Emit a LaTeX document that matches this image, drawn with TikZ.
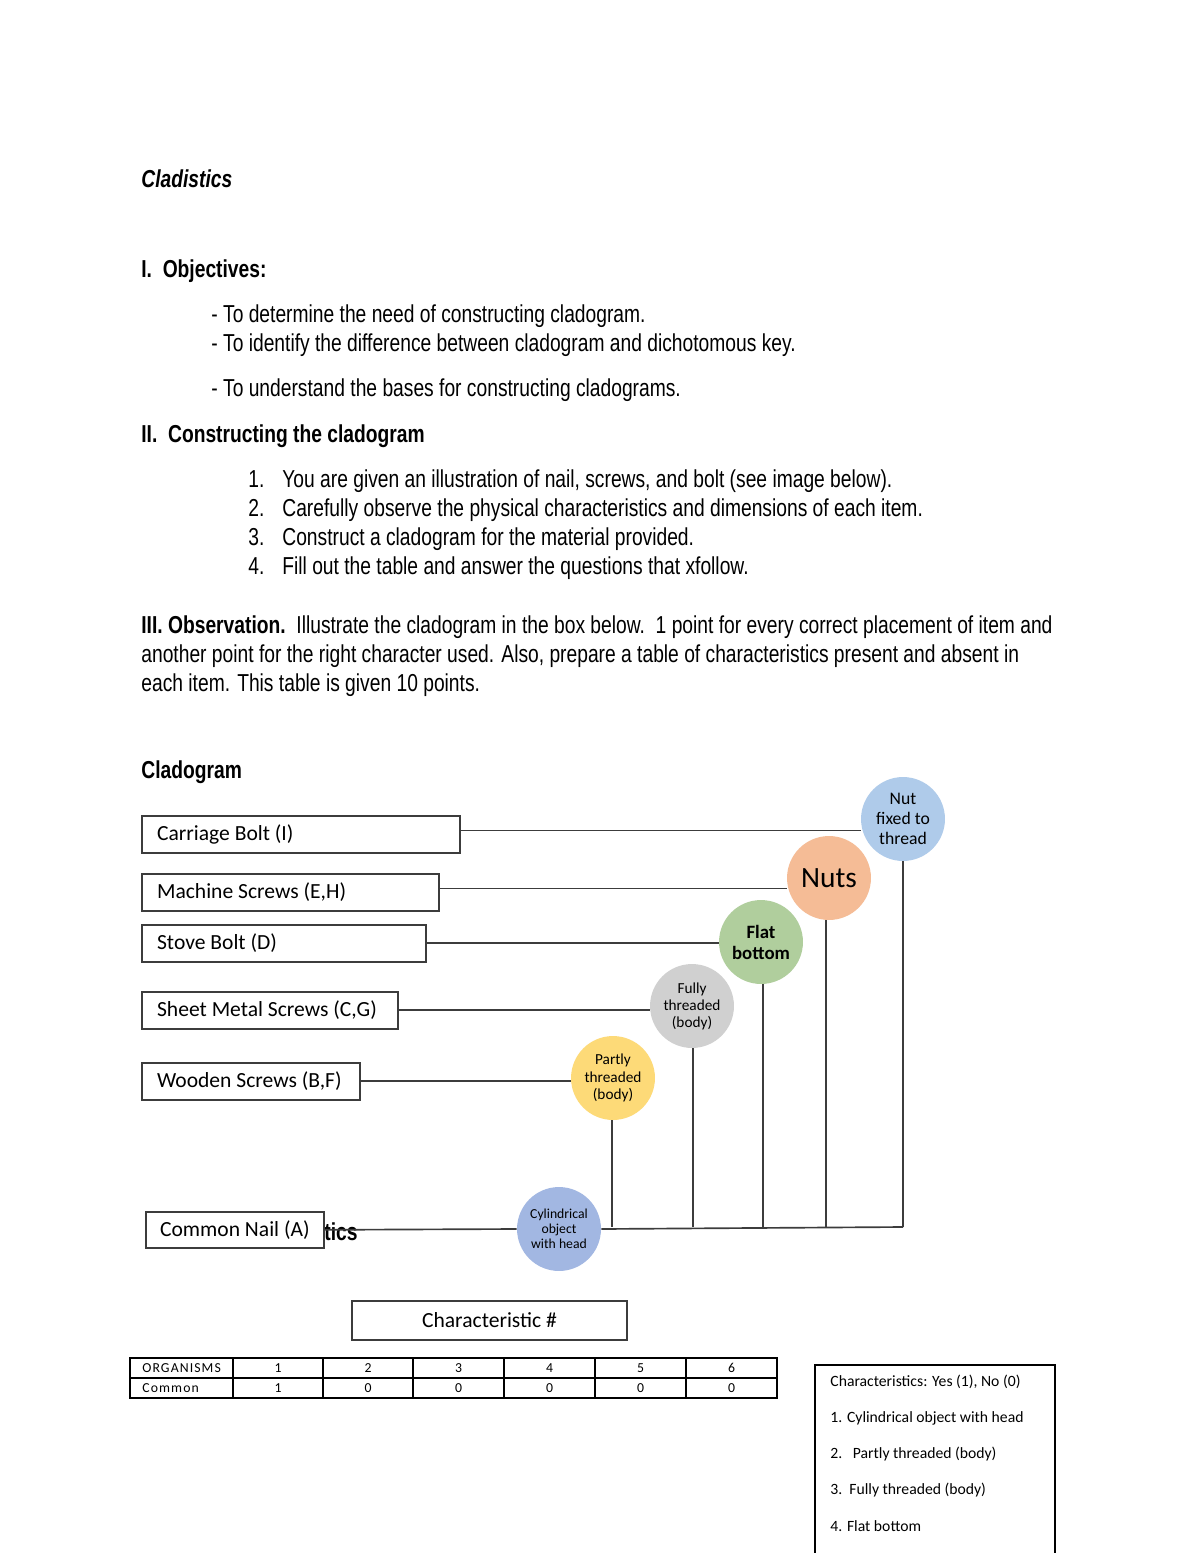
\documentclass[tikz,border=0pt]{standalone}
\usepackage{fontspec}
\setmainfont{Liberation Sans}[FakeStretch=0.785]
\newfontfamily\calib{Carlito}
\newfontfamily\calibsp{Carlito}[LetterSpace=8]
\usetikzlibrary{calc}
\definecolor{nftblue}{RGB}{175,203,234}
\definecolor{nutsor}{RGB}{245,188,150}
\definecolor{flatgr}{RGB}{176,206,157}
\definecolor{fullgr}{RGB}{208,208,208}
\definecolor{partyl}{RGB}{253,218,120}
\definecolor{cylbl}{RGB}{162,183,226}
\definecolor{lnc}{RGB}{60,60,60}
\begin{document}
\begin{tikzpicture}[x=0.51pt,y=-0.51pt,
  txt/.style={anchor=base west, inner sep=0, font=\fontsize{12.5}{15}\selectfont},
  hd/.style={anchor=base west, inner sep=0, font=\bfseries\fontsize{12.5}{15}\selectfont},
  box/.style={draw=lnc, line width=0.8pt, fill=white, inner sep=0, anchor=north west},
  lbl/.style={anchor=west, inner sep=0, font=\calib\fontsize{11}{13}\selectfont},
  blob/.style={circle, minimum size=42.8pt, inner sep=0, align=center},
  conn/.style={draw=lnc, line width=0.85pt},
  tbl/.style={draw=black, line width=1.2pt},
  tt/.style={inner sep=0, font=\calibsp\fontsize{7}{8}\selectfont},
  kt/.style={anchor=base west, inner sep=0, font=\calib\fontsize{8}{10}\selectfont},
]
\useasboundingbox (0,0) rectangle (1200,1553);
\fill[white] (0,0) rectangle (1200,1553);

% ---------- text ----------
\node[anchor=base west, inner sep=0, font=\bfseries\itshape\fontsize{12.5}{15}\selectfont] (title) at (141,188) {Cladistics};
\node[hd] (obj) at (141,277) {I.\ \ Objectives:};
\node[txt] (o1) at (211,322) {- To determine the need of constructing cladogram.};
\node[txt] (o2) at (211,351) {- To identify the difference between cladogram and dichotomous key.};
\node[txt] (o3) at (211,396) {- To understand the bases for constructing cladograms.};
\node[hd] (con) at (141,442) {II.\ \ Constructing the cladogram};
\node[txt] (n1) at (248,487) {1.};
\node[txt] (l1) at (282,487) {You are given an illustration of nail, screws, and bolt (see image below).};
\node[txt] (n2) at (248,516) {2.};
\node[txt] (l2) at (282,516) {Carefully observe the physical characteristics and dimensions of each item.};
\node[txt] (n3) at (248,545) {3.};
\node[txt] (l3) at (282,545) {Construct a cladogram for the material provided.};
\node[txt] (n4) at (248,574) {4.};
\node[txt] (l4) at (282,574) {Fill out the table and answer the questions that xfollow.};
\node[txt] (p1) at (141,633) {\textbf{III. Observation.}\ \ Illustrate the cladogram in the box below.\ \ 1 point for every correct placement of item and};
\node[txt] (p2) at (141,662) {another point for the right character used. Also, prepare a table of characteristics present and absent in};
\node[txt] (p3) at (141,691) {each item. This table is given 10 points.};
\node[hd] (clh) at (141,778) {Cladogram};

% ---------- cladogram ----------
\node[anchor=base west, inner sep=0, font=\bfseries\fontsize{12.5}{15}\selectfont] (tics) at (324,1240) {tics};

\node[box, minimum width=162.2pt, minimum height=18.9pt] (cb) at (141,815) {};
\node[lbl] at ([xshift=8pt]cb.west) {Carriage Bolt (I)};
\node[box, minimum width=151.5pt, minimum height=18.9pt] (ms) at (141,873) {};
\node[lbl] at ([xshift=8pt]ms.west) {Machine Screws (E,H)};
\node[box, minimum width=144.8pt, minimum height=18.9pt] (sb) at (141,924) {};
\node[lbl] at ([xshift=8pt]sb.west) {Stove Bolt (D)};
\node[box, minimum width=130.6pt, minimum height=18.9pt] (sm) at (141,991) {};
\node[lbl] at ([xshift=8pt]sm.west) {Sheet Metal Screws (C,G)};
\node[box, minimum width=111.2pt, minimum height=18.9pt] (ws) at (141,1062) {};
\node[lbl] at ([xshift=8pt]ws.west) {Wooden Screws (B,F)};
\node[box, minimum width=90.8pt, minimum height=18.4pt] (cn) at (145,1211) {};
\node[lbl] at ([xshift=7.5pt]cn.west) {Common Nail (A)};

\node[blob, fill=nftblue, font=\calib\fontsize{9}{10}\selectfont] (nft) at (903,819) {Nut\\fixed to\\thread};
\node[blob, fill=nutsor, font=\calib\fontsize{15}{17}\selectfont] (nuts) at (829,878) {Nuts};
\node[blob, fill=flatgr, font=\calib\bfseries\fontsize{9.6}{10.7}\selectfont] (flat) at (761,942) {Flat\\bottom};
\node[blob, fill=fullgr, font=\calib\fontsize{7.8}{8.7}\selectfont] (full) at (692,1006) {Fully\\threaded\\(body)};
\node[blob, fill=partyl, font=\calib\fontsize{7.8}{8.9}\selectfont] (part) at (613,1078) {Partly\\threaded\\(body)};
\node[blob, fill=cylbl, font=\calib\fontsize{7}{7.7}\selectfont] (cyl) at (559,1229) {Cylindrical\\object\\with head};

\coordinate (base) at (0,1227);
\draw[conn] ([yshift=2pt]cb.east) -- ([yshift=2pt]cb.east -| nft.west);
\draw[conn] ([yshift=2pt]ms.east) -- ([yshift=2pt]ms.east -| nuts.west);
\draw[conn] (sb.east) -- (sb.east -| flat.west);
\draw[conn] (sm.east) -- (sm.east -| full.west);
\draw[conn] (ws.east) -- (ws.east -| part.west);
\draw[conn] (cn.east) -- (cyl.west);
\draw[conn] (nft.south) -- (nft.south |- base);
\draw[conn] ([xshift=-1.5pt]nuts.south) -- ([xshift=-1.5pt]nuts.south |- base);
\draw[conn] ([xshift=1pt]flat.south) -- ([xshift=1pt]flat.south |- base);
\draw[conn] ([xshift=0.5pt]full.south) -- ([xshift=0.5pt]full.south |- base);
\draw[conn] ([xshift=-0.5pt]part.south) -- ([xshift=-0.5pt]part.south |- base);
\draw[conn] (cyl.east) -- (nft.south |- base);

% ---------- table ----------
\node[draw=lnc, line width=0.8pt, minimum width=140.3pt, minimum height=19.9pt, inner sep=0, font=\calib\fontsize{11}{13}\selectfont] (chn) at (489.5,1320.5) {Characteristic \#};

\draw[tbl] (130,1358) rectangle (777,1398);
\draw[tbl] (130,1378) -- (777,1378);
\foreach \x in {233,323,413,504,595,686} \draw[tbl] (\x,1358) -- (\x,1398);
\node[tt, anchor=west] (org) at (142,1368) {ORGANISMS};
\node[tt, anchor=west] (com) at (142,1388) {Common};
\foreach \x/\h/\v [count=\i] in {278/1/1,368/2/0,458.5/3/0,549.5/4/0,640.5/5/0,731.5/6/0} {
  \node[tt] (h\i) at (\x,1368) {\h};
  \node[tt] (v\i) at (\x,1388) {\v};
}

% ---------- key ----------
\draw[draw=black, line width=0.75pt] (815,1553) -- (815,1365) -- (1055,1365) -- (1055,1553);
\node[kt] (k0) at (830,1386) {Characteristics: Yes (1), No (0)};
\node[kt] (k1) at (830,1422) {1. Cylindrical object with head};
\node[kt] (k2) at (830,1458) {2.\ \ \ Partly threaded (body)};
\node[kt] (k3) at (830,1494) {3.\ \ Fully threaded (body)};
\node[kt] (k4) at (830,1531) {4. Flat bottom};
\end{tikzpicture}
\end{document}
